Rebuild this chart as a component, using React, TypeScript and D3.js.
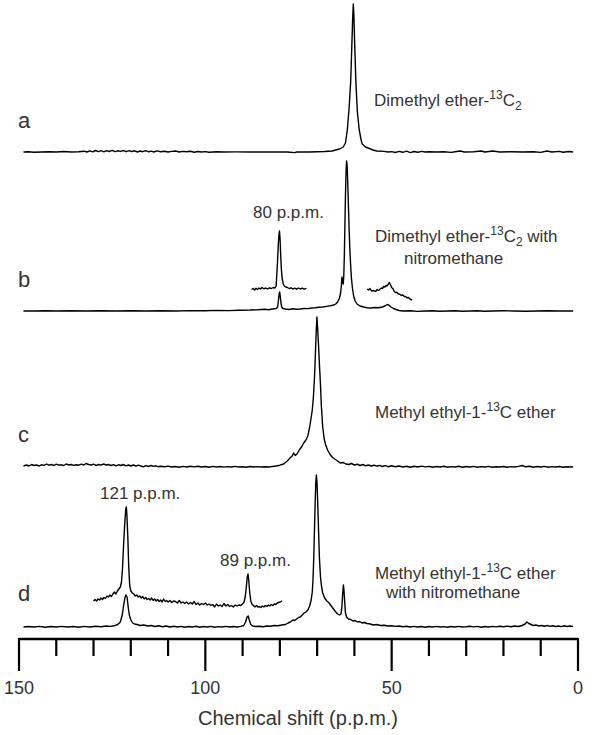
import React from 'react';
import * as d3 from 'd3';

// ---- Data (ppm, intensity in arbitrary units above each trace's baseline) ----
const traceA: number[][] = [
  [148.8,0],[147.5,0.3],[146,-0.3],[144,0],[142,0.2],[140,0],[138,0.5],[136,0],[134,0.3],[132.5,0.8],[131.8,0],[131,1.2],[130.2,0.2],[129.5,1.5],[128.7,0.4],[128,1.3],[127.2,0.2],[126.5,1.4],[125.8,0.5],[125,1.6],[124.2,0.3],[123.5,1.2],[122.8,0.6],[122,1.5],[121.2,0.3],[120.5,1.3],[119.8,0.5],[119,1.2],[118.2,0],[117.5,1],[116.8,0.3],[116,1.4],[115.2,0.2],[114.5,0.9],[113.8,0],[113,1.1],[112,0.2],[111,0.8],[110,0],[109,0.6],[108,1],[107,0],[106,0.6],[105,0.2],[104,0.7],[103,-0.2],[102,0.5],[101,0],[100,0.4],[99,-0.3],[97,0.2],[95,0],[92,0.1],[88,0],[84,0],[80,0],[78,0],[76,-0.6],[75.5,0],[72,0],[70,0.2],[68,0.5],[66,1],[65,2],[64,3],[63,5],[62.4,9],[61.9,22],[61.4,45],[61,70],[60.7,105],[60.45,135],[60.3,148],[60.15,138],[59.9,105],[59.6,70],[59.2,40],[58.7,22],[58.2,12],[57.9,8],[57,5],[56,3.5],[55,2],[54,1],[52,0.6],[51,0],[50,0.4],[49,-0.5],[48,0.6],[47,-0.3],[46,0.8],[45,-0.6],[44,0.5],[43,-0.2],[42,0.6],[41,0],[40,0.3],[38,0],[36,0.2],[34,-0.4],[33,0.3],[31.6,1],[30.5,0],[28,0.2],[26,1],[25,0],[22.8,1],[21,0],[18,0.2],[15,0],[12,0.3],[10,-0.4],[8.3,1],[7,0],[5,0.6],[4,-0.3],[2.5,0.5],[1.3,0]
];

const traceB: number[][] = [
  [148.8,0],[146,0],[143,0.3],[140,0],[136,0.2],[132,0],[128,0.3],[124,0],[120,0.2],[116,0],[112,0.3],[108,0],[104,0.4],[100,0.2],[97,0.6],[94,0.4],[91,0.8],[88,1],[86,1.3],[84,1.8],[83,1.2],[82,2],[81,2.5],[80.6,4],[80.4,10],[80.2,17],[80.05,19],[79.9,15],[79.7,8],[79.5,4],[79.2,2.5],[78.5,2],[77.5,1.5],[76.5,2.2],[75.5,1.8],[74.5,2],[73.5,2.5],[72.5,2.4],[71.5,3],[70.5,3.2],[69.5,3.8],[68.5,4],[67.5,4.6],[66.5,5.2],[65.5,6],[65,7],[64.5,9],[64,13],[63.7,18],[63.5,25],[63.35,34],[63.2,30],[63,27],[62.85,35],[62.7,55],[62.55,85],[62.4,115],[62.25,138],[62.1,150],[61.95,146],[61.8,130],[61.6,105],[61.4,80],[61.2,60],[61,45],[60.8,33],[60.5,22],[60.2,15],[59.8,10],[59.3,7],[58.5,5],[57.5,4],[56.6,3.2],[55.5,3],[54.5,3.5],[53.5,3.2],[52.5,4],[51.8,5],[51.2,6.5],[50.7,5.8],[50.2,4],[49.5,2.5],[48.8,1.5],[48,0.5],[47,0],[45,0.2],[43,-0.4],[41,0],[39,0.2],[37,-0.3],[35,0],[33,0.3],[31,-0.2],[29,0],[27,0.3],[25,-0.3],[23,0],[20,0.2],[17,0],[14,-0.2],[11,0],[8,0.2],[5,0],[1.3,0]
];

const insetB80: number[][] = [
  [87.6,21.5],[87.2,22.5],[86.8,21],[86.4,22.8],[86,21.5],[85.6,23],[85.2,22],[84.8,23.5],[84.3,22.2],[83.8,23],[83.3,22],[82.8,23.2],[82.3,22.5],[81.8,23.5],[81.3,23],[81,25],[80.7,44],[80.4,68],[80.25,76],[80.1,80],[79.95,72],[79.8,58],[79.6,42],[79.4,33],[79.1,27],[78.8,25],[78.4,24],[78,23.5],[77.5,22.5],[77,23.2],[76.5,22],[76,22.8],[75.5,21.8],[75,23],[74.5,22],[74,22.8],[73.5,21.8],[72.9,22.6]
];

const insetB50: number[][] = [
  [56.6,22],[56.2,21],[55.8,22.5],[55.4,20],[54.8,20.5],[54.3,19.5],[53.9,21.5],[53.5,20.5],[53.1,22],[52.7,23],[52.4,22.5],[52.2,24.5],[51.8,24],[51.5,25.5],[51.2,25],[50.9,27],[50.6,28.5],[50.3,26],[50.0,23.5],[49.6,22],[49.3,19.5],[49,18.5],[48.6,18.8],[48.2,17],[47.8,16.8],[47.4,15.5],[47,16],[46.6,14.5],[46.3,14.5],[45.9,13.2],[45.5,13.5],[45.1,12],[44.5,11]
];

const traceC: number[][] = [
  [148.8,1],[148,2],[147.3,1],[146.6,2.5],[146,1.5],[145.3,2],[144.6,1],[144,2.2],[143.3,1.6],[142.6,3],[142,1.8],[141.3,2.5],[140.6,1.5],[140,2.8],[139.3,1.8],[138.6,2.2],[138,1.5],[137.3,3],[136.6,2],[136,2.5],[135.3,1.6],[134.6,2.3],[134,1.8],[133.3,2.8],[132.6,2],[132,3.5],[131.3,2.5],[130.6,2],[130,2.8],[129.3,1.5],[128.6,2.5],[128,1.8],[127.3,3],[126.6,2],[126,2.5],[125.3,1.5],[124.6,2.3],[124,1.2],[123.3,2.2],[122.6,1.5],[122,2.5],[121.3,1.2],[120.6,2],[120,1],[119.3,2],[118.6,0.8],[118,1.8],[117.3,1],[116.6,0.2],[116,1.4],[115.3,0.5],[114.6,1.5],[114,0.6],[113.3,1.2],[112.6,0.3],[112,0.8],[111,0.2],[110,0.9],[109,0],[108,0.5],[107,-0.2],[106,0.6],[105,0],[104,0.7],[103,0.1],[102,0.8],[101,0],[100,0.5],[99,-0.2],[98,0.6],[97,0],[96,0.5],[95,-0.1],[94,0.4],[93,0],[92,0.6],[91,0],[90,0.3],[89,-0.2],[88,0.5],[87,0],[86,0.4],[85,0],[84,0.3],[83,0],[82,0.5],[81,1],[80,1.8],[79,3],[78,6],[77.3,9],[76.7,11],[76.3,14],[75.9,11.5],[75.4,13],[74.8,17],[74.2,20],[73.6,24],[73,27],[72.5,31],[72.1,38],[71.7,47],[71.3,57],[71,70],[70.7,90],[70.45,115],[70.25,135],[70.05,150],[69.85,138],[69.6,120],[69.35,100],[69.1,82],[68.85,60],[68.5,40],[68.1,28],[67.7,22],[67.2,17],[66.6,13],[66,10],[65.3,8],[64.5,6],[63.8,4],[63,4.5],[62.3,3],[61.5,2.5],[60.8,3.5],[60,2],[59.2,2.8],[58.5,1.5],[57.7,2.5],[57,1.2],[56.2,2],[55.5,1],[54.7,1.8],[54,0.8],[53.2,1.6],[52.5,0.5],[51.7,1.4],[51,0.3],[50,1.2],[49,0.2],[48,1],[47,0],[46,0.8],[45,-0.2],[44,0.7],[43,0],[42,0.9],[41,0.1],[40,0.6],[39,-0.3],[38,0.5],[37,0],[36,0.8],[35,-0.2],[34,0.4],[33,0],[32,0.7],[31,-0.3],[30,0.5],[29,0],[28,0.6],[27,-0.2],[26,0.4],[25,0],[24,0.6],[23,-0.2],[22,0.3],[21,0],[20,0.5],[19,-0.3],[18,0.4],[17,0],[16,0.6],[15,1.5],[14,0.2],[13,0.8],[12,-0.2],[11,0.5],[10,0],[9,0.6],[8,-0.2],[7,0.4],[6,0],[5,0.5],[4,-0.3],[3,0.3],[2,0],[1.3,0.2]
];

const traceD: number[][] = [
  [148.8,0],[147.5,0.5],[146,0],[144.5,0.6],[143,-0.2],[141.5,0.5],[140,0],[138.5,0.6],[137,0],[135.5,0.5],[134,-0.3],[132.5,0.6],[131,0],[129.5,0.8],[128,0.2],[126.5,1],[125.5,0.6],[124.5,1.2],[123.5,2.5],[122.8,5],[122.3,12],[121.9,22],[121.6,29],[121.3,32],[121.0,30],[120.7,20],[120.4,12],[120,7],[119.5,4],[119,3],[118.3,2.5],[117.5,1.5],[116.5,2],[115.5,1],[114.5,1.5],[113.5,0.5],[112.5,1.2],[111.5,0.3],[110.5,1],[109.5,0],[108.5,0.8],[107.5,0],[106.5,0.6],[105.5,-0.2],[104.5,0.5],[103.5,0],[102.5,0.7],[101.5,-0.2],[100.5,0.5],[99.5,0],[98.5,0.6],[97.5,-0.2],[96.5,0.4],[95.5,0],[94.5,0.6],[93.5,0],[92.5,0.5],[91.5,0],[90.5,0.6],[89.7,1.5],[89.2,5],[88.8,10],[88.5,11],[88.2,7],[87.8,2.5],[87.3,1],[86.5,0.5],[85.5,0.8],[84.5,0.3],[83.5,1],[82.5,0.8],[81.5,1.5],[80.5,1.2],[79.5,2],[78.5,2.5],[77.8,4],[77.2,5],[76.5,7],[76,6.5],[75.5,8],[75,9.5],[74.5,10],[74,12],[73.5,14],[73,15],[72.5,17],[72,21],[71.6,27],[71.3,35],[71.1,48],[70.9,70],[70.7,100],[70.5,128],[70.35,145],[70.2,152],[70.05,146],[69.85,125],[69.6,95],[69.4,70],[69.1,50],[68.8,40],[68.5,34],[68,29],[67.4,26],[66.8,24],[66.2,21],[65.6,18],[65,15],[64.5,13],[64,12],[63.6,13],[63.35,20],[63.15,33],[62.95,42],[62.8,37],[62.6,25],[62.4,14],[62.1,10],[61.6,8],[61,7.5],[60.4,6],[59.8,6.5],[59.2,5],[58.6,5.5],[58,4],[57.3,4.5],[56.6,3.5],[55.7,3],[55,2],[54,2.5],[53,1.5],[52,1.8],[51,1],[50,1.3],[49,0.6],[48,1],[47,0.2],[46,0.8],[45,0],[44,0.6],[43,0],[42,0.5],[41,-0.2],[40,0.5],[39,0],[38,0.6],[37,0],[36,0.4],[35,-0.2],[34,0.5],[33,0],[32,0.6],[31,0],[30,0.3],[29,0.8],[28,0.1],[27,0.6],[26,-0.2],[25,0.5],[24,0],[23,0.6],[22,0.1],[21,0.7],[20,0.2],[19,0.9],[18,0.3],[17,1],[16,0.5],[15,1.5],[14.2,3],[13.7,5],[13.2,3.5],[12.6,2.5],[12,1.5],[11.3,2],[10.5,1],[9.8,1.5],[9,0.8],[8.3,1.5],[7.5,0.6],[6.8,1.3],[6,0.5],[5.2,1],[4.5,0.4],[3.7,1.2],[3,0.5],[2.2,1],[1.3,0.6]
];

const insetD: number[][] = [
  [130.0,26],[129.6,27.5],[129.2,26],[128.8,28],[128.4,27],[128,29],[127.6,27.5],[127.2,29.5],[126.8,28.5],[126.4,31],[126,30],[125.6,32],[125.2,30.5],[124.8,33],[124.4,35],[124,33],[123.6,36],[123.2,38],[122.8,40],[122.5,45],[122.2,60],[121.9,85],[121.6,105],[121.35,118],[121.2,120],[121.05,112],[120.8,90],[120.55,60],[120.3,42],[120,36],[119.6,34],[119.2,33],[118.8,31],[118.4,32],[118,30],[117.6,31],[117.2,29],[116.8,30.5],[116.4,28],[116,29.5],[115.6,27.5],[115.2,28.5],[114.8,27],[114.4,29],[114,26.5],[113.6,28],[113.2,26],[112.8,27.5],[112.4,25.5],[112,27],[111.6,25],[111.2,28],[110.8,25.5],[110.4,26.5],[110,25],[109.5,26.5],[109,24.5],[108.5,26],[108,25.5],[107.5,24],[107,26.5],[106.5,24],[106,25],[105.5,23.5],[105,25],[104.5,23],[104,24.5],[103.5,23],[103,25.5],[102.5,22.5],[102,24],[101.5,22],[101,23.5],[100.5,22.5],[100,24],[99.5,22],[99,23],[98.5,21.5],[98,22.5],[97.5,20],[97,23],[96.5,21],[96,22],[95.5,20.5],[95,23.5],[94.5,21],[94,22.5],[93.5,20.5],[93,21.5],[92.5,20],[92,22],[91.5,21],[91,22],[90.5,21.5],[90,23],[89.6,25],[89.3,30],[89,40],[88.75,50],[88.55,53],[88.35,47],[88.1,35],[87.8,26],[87.5,23],[87.1,21.5],[86.7,20],[86.3,21.5],[85.9,20],[85.5,20.5],[85.1,19.5],[84.7,21],[84.3,20],[83.9,21.5],[83.5,20.5],[83.1,22],[82.7,21],[82.3,22.5],[81.9,21.5],[81.5,23],[81.1,22.5],[80.7,24],[80.3,24.5],[79.9,25],[79.4,26]
];

const panelLetters = ['a', 'b', 'c', 'd'];
const majorTickLabels = [150, 100, 50, 0];
const axisTitle = 'Chemical shift (p.p.m.)';
const peakLabels = ['80 p.p.m.', '121 p.p.m.', '89 p.p.m.'];

const FONT = '"Liberation Sans", Arial, Helvetica, sans-serif';

export default function App() {
  const x = d3.scaleLinear().domain([150, 0]).range([19, 578]);
  const y = d3.scaleLinear().domain([0, 150]).range([0, -150]);
  const line = d3.line<number[]>().x(d => x(d[0])).y(d => y(d[1]));

  const baselines = [152, 311, 467, 627];
  const traces = [
    { base: baselines[0], paths: [traceA] },
    { base: baselines[1], paths: [traceB, insetB80, insetB50] },
    { base: baselines[2], paths: [traceC] },
    { base: baselines[3], paths: [traceD, insetD] },
  ];

  const axisY = 639;
  const ticks = x.ticks(15);
  const isMajor = (t: number) => majorTickLabels.includes(t);

  const txt = { fontFamily: FONT, fill: '#333' } as const;

  return (
    <svg width={600} height={735} style={{ position: 'absolute', left: 0, top: 0, background: '#fff' }}>
      <rect width={600} height={735} fill="#fff" />
      {traces.map((t, i) => (
        <g key={i} transform={`translate(0,${t.base})`}>
          {t.paths.map((p, j) => (
            <path key={j} d={line(p) || ''} fill="none" stroke="#000" strokeWidth={1.4} strokeLinejoin="round" />
          ))}
        </g>
      ))}

      {/* panel letters */}
      {panelLetters.map((l, i) => (
        <text key={l} x={18} y={[128, 287, 442, 601][i]} fontSize={22} {...txt}>{l}</text>
      ))}

      {/* descriptions */}
      <text x={374} y={106} fontSize={17} {...txt}>
        Dimethyl ether-<tspan fontSize={12} dy={-7}>13</tspan><tspan dy={7}>C</tspan><tspan fontSize={12} dy={4}>2</tspan>
      </text>
      <text x={375} y={242} fontSize={17} {...txt}>
        Dimethyl ether-<tspan fontSize={12} dy={-7}>13</tspan><tspan dy={7}>C</tspan><tspan fontSize={12} dy={4}>2</tspan><tspan dy={-4}> with</tspan>
      </text>
      <text x={404} y={264} fontSize={17} {...txt}>nitromethane</text>
      <text x={375} y={418} fontSize={17} {...txt}>
        Methyl ethyl-1-<tspan fontSize={12} dy={-7}>13</tspan><tspan dy={7}>C ether</tspan>
      </text>
      <text x={375} y={579} fontSize={17} {...txt}>
        Methyl ethyl-1-<tspan fontSize={12} dy={-7}>13</tspan><tspan dy={7}>C ether</tspan>
      </text>
      <text x={386} y={598} fontSize={17} {...txt}>with nitromethane</text>

      {/* peak labels */}
      <text x={253} y={218} fontSize={17} {...txt}>{peakLabels[0]}</text>
      <text x={100} y={499} fontSize={17} {...txt}>{peakLabels[1]}</text>
      <text x={220} y={566} fontSize={17} {...txt}>{peakLabels[2]}</text>

      {/* axis */}
      <line x1={x(150)} x2={x(0)} y1={axisY} y2={axisY} stroke="#000" strokeWidth={2.5} />
      {ticks.map(t => (
        <line key={t} x1={x(t)} x2={x(t)} y1={axisY - 1} y2={axisY + (isMajor(t) ? 32 : 17)} stroke="#000" strokeWidth={2.2} />
      ))}
      {majorTickLabels.map(t => (
        <text key={t} x={x(t)} y={694} fontSize={18} textAnchor="middle" {...txt}>{t}</text>
      ))}
      <text x={298} y={725} fontSize={20} textAnchor="middle" {...txt}>{axisTitle}</text>
    </svg>
  );
}
